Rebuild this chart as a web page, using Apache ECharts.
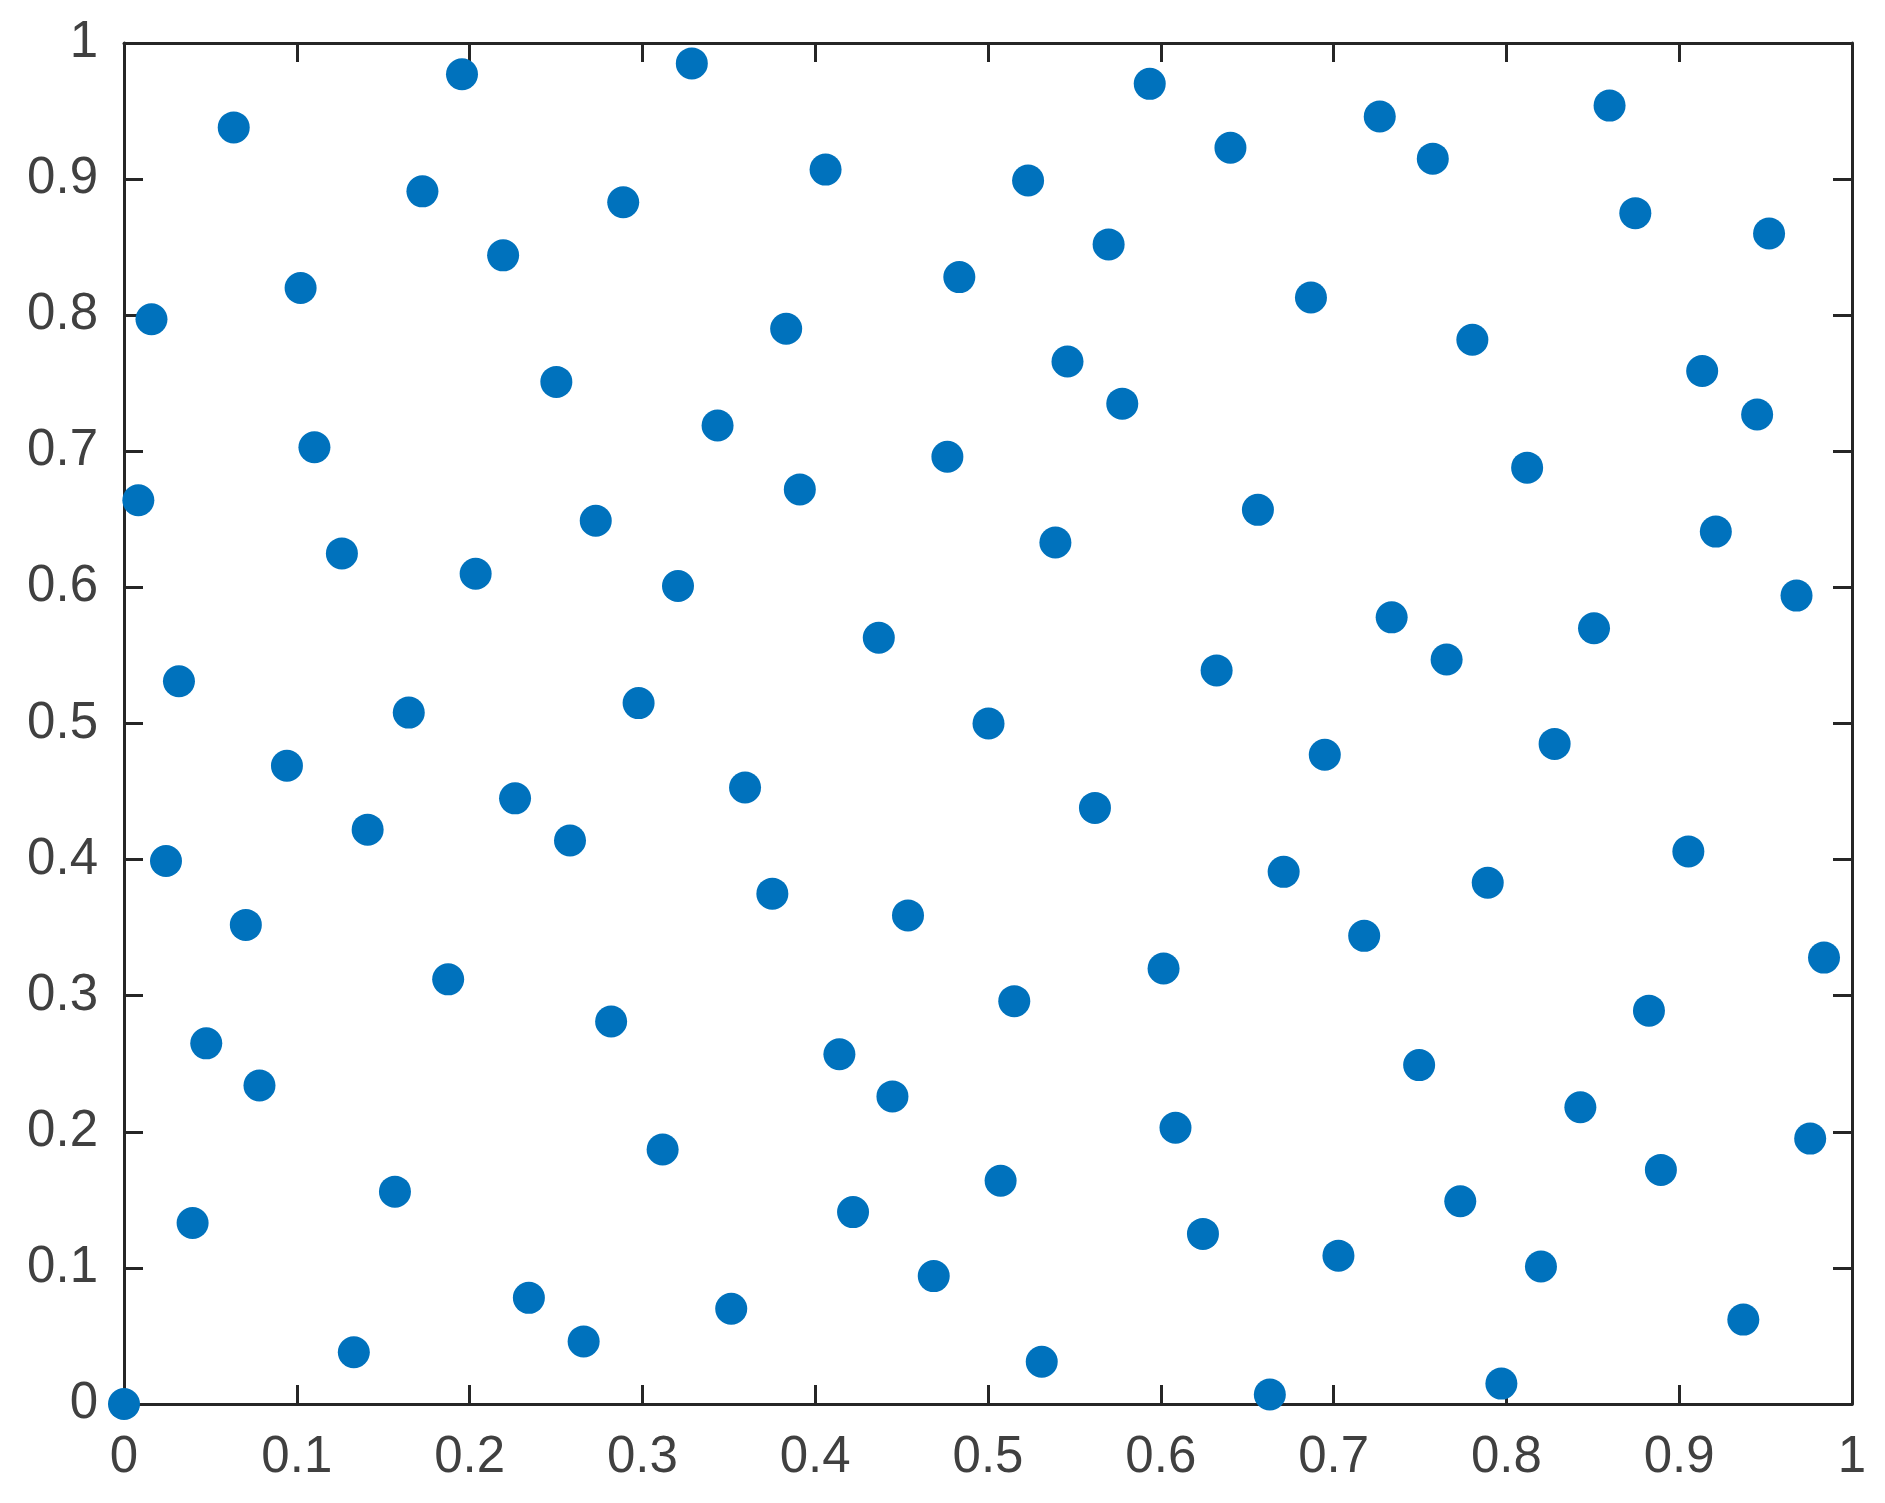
<!DOCTYPE html>
<html>
<head>
<meta charset="utf-8">
<script src="https://cdn.jsdelivr.net/npm/echarts@6/dist/echarts.min.js"></script>
<style>
html,body{margin:0;padding:0;background:#fff;}
#main{width:1885px;height:1503px;}
</style>
</head>
<body>
<div id="main"></div>
<script>
// point coordinates
var xValues=[0,0.0083,0.0159,0.0243,0.0318,0.0397,0.0476,0.0635,0.0705,0.0784,
    0.0943,0.1022,0.1102,0.1261,0.1330,0.1410,0.1568,0.1648,0.1727,0.1876,
    0.1956,0.2035,0.2194,0.2263,0.2343,0.2502,0.2581,0.2660,0.2730,0.2819,
    0.2889,0.2978,0.3117,0.3206,0.3286,0.3435,0.3514,0.3594,0.3752,0.3832,
    0.3911,0.4060,0.4140,0.4219,0.4368,0.4447,0.4537,0.4686,0.4765,0.4834,
    0.5003,0.5073,0.5152,0.5232,0.5311,0.5390,0.5460,0.5619,0.5698,0.5777,
    0.5936,0.6016,0.6085,0.6244,0.6323,0.6403,0.6562,0.6631,0.6711,0.6869,
    0.6949,0.7028,0.7177,0.7267,0.7336,0.7495,0.7574,0.7654,0.7733,0.7803,
    0.7892,0.7971,0.8120,0.8200,0.8279,0.8428,0.8507,0.8597,0.8746,0.8825,
    0.8894,0.9053,0.9133,0.9212,0.9371,0.9451,0.9520,0.9679,0.9758,0.9838];
var yValues=[0,0.664,0.797,0.399,0.531,0.133,0.265,0.938,0.352,0.234,
    0.469,0.820,0.703,0.625,0.038,0.422,0.156,0.508,0.891,0.312,
    0.977,0.610,0.844,0.445,0.078,0.751,0.414,0.046,0.649,0.281,
    0.883,0.515,0.187,0.601,0.985,0.719,0.070,0.453,0.375,0.790,
    0.672,0.907,0.257,0.141,0.563,0.226,0.359,0.094,0.696,0.828,
    0.500,0.164,0.296,0.899,0.031,0.633,0.766,0.438,0.852,0.735,
    0.970,0.320,0.203,0.125,0.539,0.923,0.657,0.007,0.391,0.813,
    0.477,0.109,0.344,0.946,0.578,0.249,0.915,0.547,0.149,0.782,
    0.383,0.015,0.688,0.101,0.485,0.218,0.570,0.954,0.875,0.289,
    0.172,0.406,0.759,0.641,0.062,0.727,0.860,0.594,0.195,0.328];
var xTickLabels=['0','0.1','0.2','0.3','0.4','0.5','0.6','0.7','0.8','0.9','1'];
var yTickLabels=['0','0.1','0.2','0.3','0.4','0.5','0.6','0.7','0.8','0.9','1'];

var pointData=[];
for(var i=0;i<xValues.length;i++){
    pointData.push([xValues[i],yValues[i]]);
}

var axisColor='#262626';
var labelFont={
    color:'#404040',
    fontSize:51,
    fontFamily:'"Liberation Sans", Arial, Helvetica, sans-serif'
};

function $extend(a,b){
    for(var k in b){a[k]=b[k];}
    return a;
}
function makeAxis(pos,showLabels,tickLabels,margin){
    return {
        type:'value',
        position:pos,
        min:0,
        max:1,
        interval:0.1,
        axisLine:{show:true,onZero:false,lineStyle:{color:axisColor,width:3}},
        axisTick:{show:true,inside:true,length:19,lineStyle:{color:axisColor,width:3}},
        splitLine:{show:false},
        axisLabel:$extend({
            show:showLabels,
            margin:margin,
            formatter:function(v){
                return tickLabels[Math.round(v*10)];
            }
        },labelFont)
    };
}

var myChart=echarts.init(document.getElementById('main'));
var option={
    backgroundColor:'#ffffff',
    animation:false,
    grid:{left:124,right:33,top:43,bottom:99,containLabel:false},
    xAxis:[
        makeAxis('bottom',true,xTickLabels,28),
        makeAxis('top',false,xTickLabels,0)
    ],
    yAxis:[
        makeAxis('left',true,yTickLabels,26),
        makeAxis('right',false,yTickLabels,0)
    ],
    series:[{
        type:'scatter',
        xAxisIndex:0,
        yAxisIndex:0,
        symbol:'circle',
        symbolSize:32,
        itemStyle:{color:'#0072BD',opacity:1},
        data:pointData
    }]
};
myChart.setOption(option);
</script>
</body>
</html>
